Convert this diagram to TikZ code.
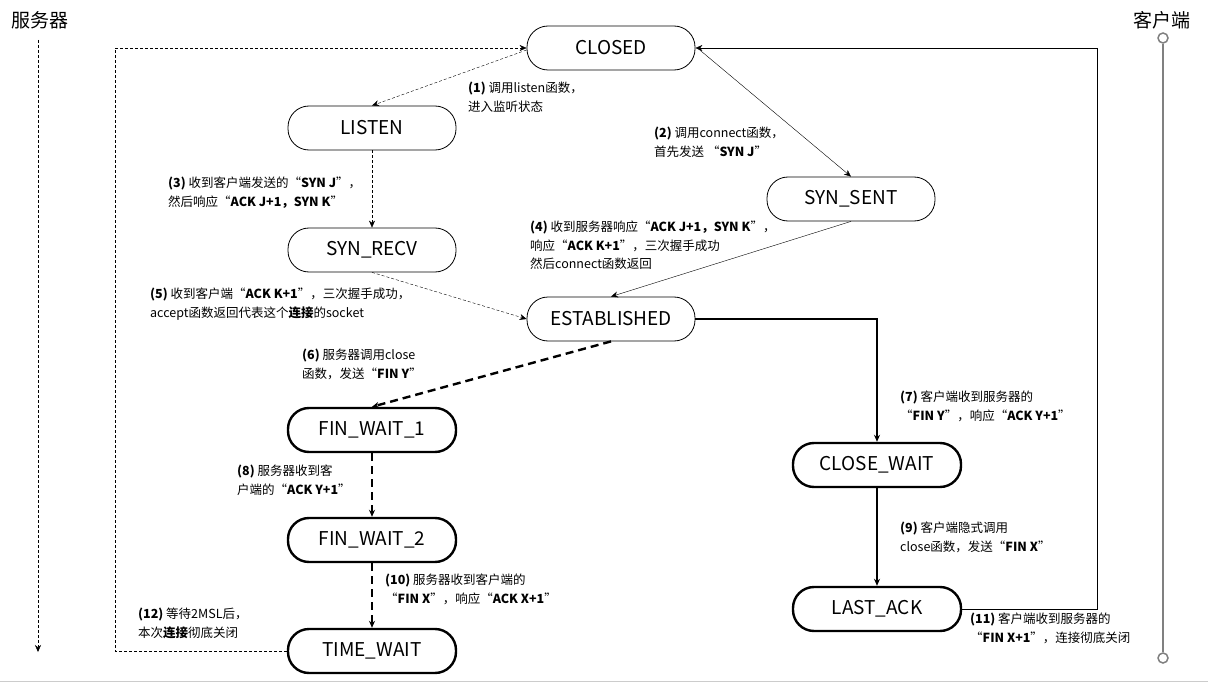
\documentclass[tikz,border=0pt]{standalone}
\usepackage{fontspec}
\setmainfont{Noto Sans CJK SC}
\usetikzlibrary{arrows.meta}
\begin{document}
\begin{tikzpicture}[x=1pt,y=-1pt,
 st/.style={draw,rounded corners=21pt,minimum width=168pt,minimum height=44pt,font=\fontsize{19}{20}\selectfont,line width=0.8pt,inner sep=0pt},
 thick st/.style={st,line width=2.4pt},
 lb/.style={anchor=north west,align=left,font=\fontsize{12.5}{18.5}\selectfont,inner sep=0pt},
 ar/.style={-{Stealth[length=7pt,width=6pt]}},
 dsh/.style={dash pattern=on 3pt off 2pt},
 tdsh/.style={line width=2.4pt,dash pattern=on 8pt off 5pt},
 tsol/.style={line width=2.4pt}]
\useasboundingbox (0,0) rectangle (1208,682);
\draw[gray!40] (0,681) -- (1208,681);
\node[font=\fontsize{19}{20}\selectfont] (srv) at (40,20) {服务器};
\node[font=\fontsize{19}{20}\selectfont] (cli) at (1162,20) {客户端};
\coordinate (s1) at (38,40); \coordinate (s2) at (38,652);
\draw[dsh,ar] (s1) -- (s2);
\node[draw=gray,circle,line width=1.5pt,minimum size=10pt,inner sep=0pt] (c1) at (1163,38) {};
\node[draw=gray,circle,line width=1.5pt,minimum size=10pt,inner sep=0pt] (c2) at (1163,658) {};
\draw[gray,line width=1.5pt] (c1) -- (c2);

\node[st] (closed) at (611,48) {CLOSED};
\node[st] (listen) at (372,128) {LISTEN};
\node[st] (synsent) at (851,199) {SYN\_SENT};
\node[st] (synrecv) at (372,250) {SYN\_RECV};
\node[st] (est) at (611,319) {ESTABLISHED};
\node[thick st] (fw1) at (372,430) {FIN\_WAIT\_1};
\node[thick st] (cw) at (877,465) {CLOSE\_WAIT};
\node[thick st] (fw2) at (372,540) {FIN\_WAIT\_2};
\node[thick st] (la) at (877,609) {LAST\_ACK};
\node[thick st] (tw) at (372,651) {TIME\_WAIT};

\draw[dsh,ar] (tw.west) -- (115,651) -- (115,48) -- (closed.west);
\draw[dsh,ar] (closed.west) ++(0,2) -- (listen.north);
\draw[ar] (closed.east) ++(2,0) -- (synsent.north);
\draw[ar] (la.east) -- (1097,609) -- (1097,48) -- (closed.east);
\draw[dsh,ar] (listen.south) -- (synrecv.north);
\draw[ar] (synsent.south) -- (est.north);
\draw[dsh,ar] (synrecv.south) -- (est.west);
\draw[tdsh,ar] (est.south) -- (fw1.north);
\draw[tsol,ar] (est.east) -- (877,319) -- (cw.north);
\draw[tdsh,ar] (fw1.south) -- (fw2.north);
\draw[tdsh,ar] (fw2.south) -- (tw.north);
\draw[tsol,ar] (cw.south) -- (la.north);

\node[lb] (l1) at (468,82) {\textbf{(1)} 调用listen函数，\\进入监听状态};
\node[lb] (l2) at (654,127) {\textbf{(2)} 调用connect函数，\\首先发送 “\textbf{SYN J}”};
\node[lb] (l3) at (168,177) {\textbf{(3)} 收到客户端发送的“\textbf{SYN J}”，\\然后响应“\textbf{ACK J+1，SYN K}”};
\node[lb] (l4) at (530,221) {\textbf{(4)} 收到服务器响应“\textbf{ACK J+1，SYN K}”，\\响应“\textbf{ACK K+1}”，三次握手成功\\然后connect函数返回};
\node[lb] (l5) at (150,288) {\textbf{(5)} 收到客户端“\textbf{ACK K+1}”，三次握手成功，\\accept函数返回代表这个\textbf{连接}的socket};
\node[lb] (l6) at (302,349) {\textbf{(6)} 服务器调用close\\函数，发送“\textbf{FIN Y}”};
\node[lb] (l7) at (900,391) {\textbf{(7)} 客户端收到服务器的\\“\textbf{FIN Y}”，响应“\textbf{ACK Y+1}”};
\node[lb] (l8) at (237,465) {\textbf{(8)} 服务器收到客\\户端的“\textbf{ACK Y+1}”};
\node[lb] (l9) at (900,522) {\textbf{(9)} 客户端隐式调用\\close函数，发送“\textbf{FIN X}”};
\node[lb] (l10) at (385,574) {\textbf{(10)} 服务器收到客户端的\\“\textbf{FIN X}”，响应“\textbf{ACK X+1}”};
\node[lb] (l11) at (970,613) {\textbf{(11)} 客户端收到服务器的\\“\textbf{FIN X+1}”，连接彻底关闭};
\node[lb] (l12) at (138,608) {\textbf{(12)} 等待2MSL后，\\本次\textbf{连接}彻底关闭};
\end{tikzpicture}
\end{document}
